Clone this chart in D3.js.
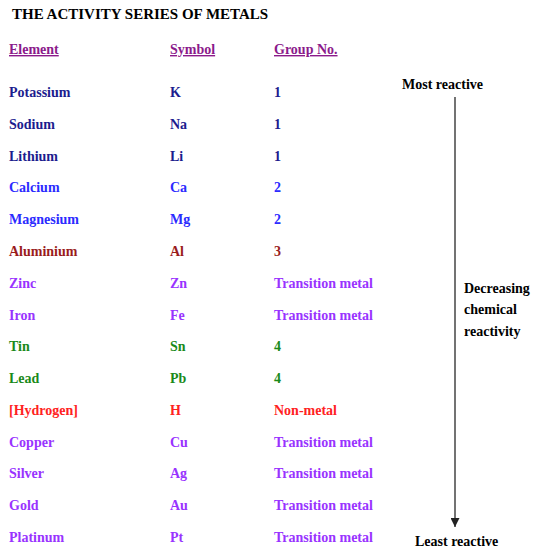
<!DOCTYPE html><html><head><meta charset="utf-8"><script src="https://cdn.jsdelivr.net/npm/d3@7"></script>
<style>body{margin:0;background:#fff}</style></head><body><svg id="c" width="555" height="555"></svg>
<script>
const elements=["Potassium","Sodium","Lithium","Calcium","Magnesium","Aluminium","Zinc","Iron","Tin","Lead","[Hydrogen]","Copper","Silver","Gold","Platinum"];
const symbols=["K","Na","Li","Ca","Mg","Al","Zn","Fe","Sn","Pb","H","Cu","Ag","Au","Pt"];
const groups=["1","1","1","2","2","3","Transition metal","Transition metal","4","4","Non-metal","Transition metal","Transition metal","Transition metal","Transition metal"];
const kinds=["alkali","alkali","alkali","earth","earth","al","tm","tm","g4","g4","h","tm","tm","tm","tm"];
const headers=["Element","Symbol","Group No."];
const colors={alkali:"#1c1c8e",earth:"#2b2bff",al:"#9a1c1c",tm:"#9933ff",g4:"#1a8a1a",h:"#ff2222"};
const svg=d3.select("#c");
const F="'Liberation Serif','Times New Roman',serif";
const y=d3.scaleLinear().domain([0,elements.length-1]).range([97,542]);
const cols=d3.scaleOrdinal().domain([0,1,2]).range([9,170,274]);
svg.append("text").attr("x",12).attr("y",19).attr("font-family",F).attr("font-size",15).attr("font-weight","bold").text("THE ACTIVITY SERIES OF METALS");
headers.forEach((h,i)=>svg.append("text").attr("x",cols(i)).attr("y",54).attr("font-family",F).attr("font-size",14).attr("font-weight","bold").attr("fill","#8b1a8b").attr("text-decoration","underline").text(h));
[elements,symbols,groups].forEach((arr,ci)=>{
 svg.selectAll(null).data(arr).join("text").attr("x",cols(ci)).attr("y",(d,i)=>y(i)).attr("font-family",F).attr("font-size",14).attr("font-weight","bold").attr("fill",(d,i)=>colors[kinds[i]]).text(d=>d);
});
svg.append("defs").append("marker").attr("id","a").attr("viewBox","0 0 10 10").attr("refX",10).attr("refY",5).attr("markerWidth",6).attr("markerHeight",6).attr("orient","auto").append("path").attr("d","M0,0L10,5L0,10Z").attr("fill","#222");
svg.append("line").attr("x1",455).attr("x2",455).attr("y1",97).attr("y2",527).attr("stroke","#444").attr("stroke-width",1.5).attr("marker-end","url(#a)");
const t=(x,yy,s)=>svg.append("text").attr("x",x).attr("y",yy).attr("font-family",F).attr("font-size",14).attr("font-weight","bold").text(s);
t(402,89,"Most reactive");t(464,293,"Decreasing");t(464,314,"chemical");t(464,336,"reactivity");t(415,546,"Least reactive");
</script></body></html>
